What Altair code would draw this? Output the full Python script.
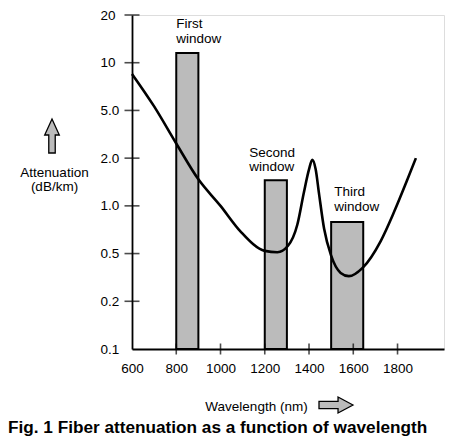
import altair as alt
import pandas as pd

# ---- data ----
curve_nm = [600, 700, 800, 900, 1000, 1090, 1200, 1257, 1305, 1347, 1377, 1400,
            1415, 1430, 1445, 1468, 1500, 1543, 1580, 1642, 1724, 1785, 1845, 1883]
curve_att = [8.5, 5.3, 2.65, 1.47, 1.0, 0.69, 0.52, 0.51, 0.56, 0.76, 1.22, 1.7,
             1.95, 1.7, 1.2, 0.72, 0.48, 0.345, 0.324, 0.38, 0.6, 0.92, 1.47, 2.0]

bar_start = [800, 1200, 1500]
bar_end = [900, 1300, 1645]
bar_top = [11.5, 1.45, 0.79]

lab_text = ["First", "window", "Second", "window", "Third", "window"]
lab_nm = [800, 800, 1130, 1130, 1514, 1514]
lab_att = [17.6, 14.1, 2.2, 1.75, 1.22, 0.98]

y_ticks = [0.1, 0.2, 0.5, 1, 2, 5, 10, 20]
x_ticks = [600, 800, 1000, 1200, 1400, 1600, 1800]
x_tickmarks = [800, 1000, 1200, 1400, 1600, 1800]
y_tickmarks = [0.2, 0.5, 1, 2, 5, 10, 20]

FONT = "Liberation Sans"
GRAY = "#bbbbbb"

curve = pd.DataFrame({"nm": curve_nm, "att": curve_att})
bars = pd.DataFrame({"start": bar_start, "end": bar_end, "top": bar_top})
labels = pd.DataFrame({"text": lab_text, "nm": lab_nm, "att": lab_att})
ytm = pd.DataFrame({"v": y_tickmarks})
xtm = pd.DataFrame({"v": x_tickmarks})
one = pd.DataFrame({"a": [0]})

n = len(y_ticks) - 1
yscale = alt.Scale(
    type="log",
    domain=y_ticks,
    range=[{"expr": f"height*{(n - i)}/{n}"} for i in range(n + 1)],
    nice=False,
)
xscale = alt.Scale(domain=[600, 2010], nice=False, zero=False)

yaxis = alt.Axis(
    orient="left",
    values=y_ticks,
    labelExpr="datum.value >= 10 ? format(datum.value, 'd') : format(datum.value, '.1f')",
    ticks=False, grid=False,
    labelAlign="left", labelPadding=32, labelFont=FONT, labelFontSize=13.5,
    labelColor="black",
    domainColor="black", domainWidth=1.8,
    title=["Attenuation", "(dB/km)"], titleAngle=0, titleAlign="center",
    titleBaseline="middle", titleX=-78, titleY=157, titleFont=FONT,
    titleFontSize=13.5, titleFontWeight="normal", titleColor="black",
    titleLineHeight=14,
)
xaxis = alt.Axis(
    orient="bottom",
    values=x_ticks, format="d",
    ticks=False, grid=False,
    labelPadding=12, labelFont=FONT, labelFontSize=13.5, labelColor="black",
    labelFlush=False, labelOverlap=False,
    domainColor="black", domainWidth=1.8,
    title="Wavelength (nm)", titleX=124, titleY=57, titleAlign="center",
    titleBaseline="middle", titleFont=FONT, titleFontSize=13.5,
    titleFontWeight="normal", titleColor="black",
)

bar_layer = alt.Chart(bars).mark_rect(
    fill=GRAY, stroke="black", strokeWidth=2
).encode(
    x=alt.X("start:Q", scale=xscale, axis=xaxis),
    x2="end:Q",
    y=alt.Y("top:Q", scale=yscale, axis=yaxis),
    y2=alt.Y2(datum=0.1),
)

line_layer = alt.Chart(curve).mark_line(
    color="black", strokeWidth=2.6, interpolate="monotone"
).encode(
    x=alt.X("nm:Q", scale=xscale, axis=xaxis),
    y=alt.Y("att:Q", scale=yscale, axis=yaxis),
)

text_layer = alt.Chart(labels).mark_text(
    align="left", baseline="middle", font=FONT, fontSize=13.5, color="black"
).encode(
    x=alt.X("nm:Q", scale=xscale, axis=xaxis),
    y=alt.Y("att:Q", scale=yscale, axis=yaxis),
    text="text:N",
)

ytick_layer = alt.Chart(ytm).mark_tick(
    orient="horizontal", size=15, thickness=1.6, color="black"
).encode(
    x=alt.X(datum=600, scale=xscale, axis=xaxis),
    y=alt.Y("v:Q", scale=yscale, axis=yaxis),
)

xtick_layer = alt.Chart(xtm).mark_tick(
    orient="vertical", size=11, thickness=1.6, color="black"
).encode(
    x=alt.X("v:Q", scale=xscale, axis=xaxis),
    y=alt.Y(datum=0.1, scale=yscale, axis=yaxis),
)

up_arrow = alt.Chart(one).mark_point(
    shape="M0,-1L0.43,-0.06L0.19,-0.06L0.19,1L-0.19,1L-0.19,-0.06L-0.43,-0.06Z",
    size=1156, filled=True, fill=GRAY, stroke="black", strokeWidth=1.3, opacity=1,
).encode(x=alt.value(-80), y=alt.value(121))

right_arrow = alt.Chart(one).mark_point(
    shape="M1,0L0.12,-0.47L0.12,-0.21L-1,-0.21L-1,0.21L0.12,0.21L0.12,0.47Z",
    size=1156, filled=True, fill=GRAY, stroke="black", strokeWidth=1.3, opacity=1,
).encode(x=alt.value(204), y=alt.value(390))

chart = alt.layer(
    bar_layer, line_layer, text_layer, ytick_layer, xtick_layer, up_arrow, right_arrow
).properties(
    width=312,
    height=334,
    autosize=alt.AutoSizeParams(type="none"),
    padding={"left": 124, "top": 7, "right": 10, "bottom": 91},
    title=alt.TitleParams(
        "Fig. 1 Fiber attenuation as a function of wavelength",
        orient="bottom", anchor="start", frame="group", dx=-124, offset=3,
        font=FONT, fontSize=17.2, fontWeight="bold", color="black",
    ),
).configure_view(strokeWidth=0).configure(background="white")

chart.save("out.html", embed_options={"renderer": "svg", "actions": False})
